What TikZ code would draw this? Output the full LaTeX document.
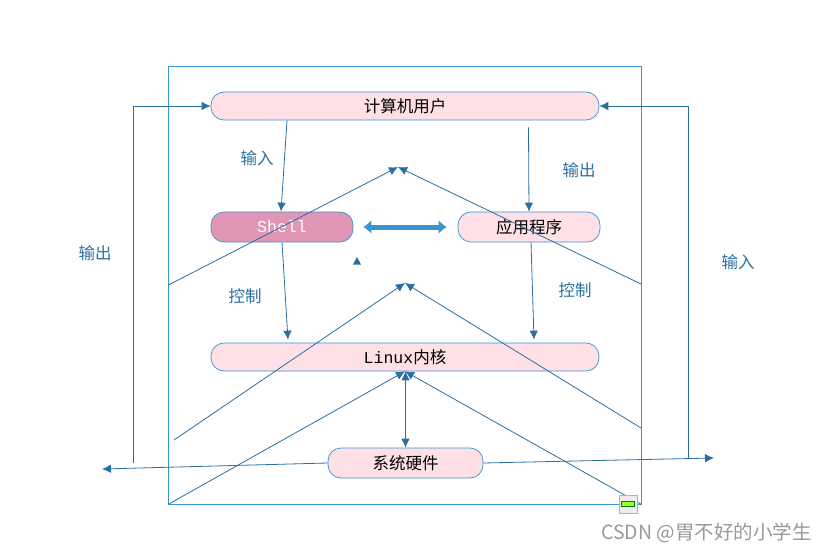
\documentclass[tikz,border=0pt]{standalone}
\usepackage{fontspec}
\setmainfont{Noto Sans CJK SC}
\newfontfamily\monofont{Liberation Mono}
\usetikzlibrary{arrows.meta}
\definecolor{framecol}{HTML}{3A94D0}
\definecolor{linkcol}{HTML}{2A6F9F}
\definecolor{pinkcol}{HTML}{FFE0E6}
\definecolor{rosecol}{HTML}{E096B4}
\tikzset{
  boxnode/.style={draw=framecol, fill=pinkcol, line width=0.7pt, rounded corners=13pt, inner sep=0pt, font=\fontsize{16.5}{17}\selectfont},
  linkline/.style={draw=linkcol, line width=0.8pt, -{Latex[length=9pt,width=8.5pt]}},
  plainline/.style={draw=linkcol, line width=0.8pt},
  labeltext/.style={text=linkcol, inner sep=0pt, font=\fontsize{16.5}{17}\selectfont},
}
\begin{document}
\begin{tikzpicture}[x=1pt, y=-1pt]
\useasboundingbox (0,0) rectangle (828,551);
\node[draw=framecol, line width=0.8pt, minimum width=472.5pt, minimum height=438pt, inner sep=0pt] (frame) at (404.75,285) {};

\node[boxnode, minimum width=388pt, minimum height=28pt] (user) at (405,106) {计算机用户};
\node[boxnode, fill=rosecol, text=white, minimum width=142pt, minimum height=30pt] (shell) at (282,227) {\monofont Shell};
\node[boxnode, minimum width=142pt, minimum height=30pt] (app) at (529,227) {应用程序};
\node[boxnode, minimum width=388pt, minimum height=28pt] (kernel) at (405,357) {{\monofont Linux}内核};
\node[boxnode, minimum width=155pt, minimum height=30pt] (hardware) at (405.5,463) {系统硬件};

\coordinate (apextop) at (398,167);
\coordinate (apexmid) at (405,283);
\coordinate (leftup) at (168.5,285);
\coordinate (rightup) at (641,284);
\coordinate (leftmid) at (174,440);
\coordinate (rightmid) at (641,428);
\coordinate (leftout) at (102,469);
\coordinate (rightout) at (714,458);
\coordinate (leftstart) at (133.5,463);
\coordinate (rightstart) at (688,458);

\draw[linkline] ([xshift=-118pt]user.south) -- ([xshift=-1pt]shell.north);
\draw[linkline] ([xshift=123.5pt,yshift=-7pt]user.south) -- (app.north);
\draw[linkline] (shell.south) -- ([xshift=-117pt,yshift=3pt]kernel.north);
\draw[linkline] ([xshift=2pt]app.south) -- ([xshift=129pt,yshift=3pt]kernel.north);

\draw[plainline] (leftstart) -- (leftstart |- user.west);
\draw[linkline] (leftstart |- user.west) -- (user.west);
\draw[plainline] (rightstart) -- (rightstart |- user.east);
\draw[linkline] (rightstart |- user.east) -- (user.east);

\draw[linkline] (hardware.west) -- (leftout);
\draw[linkline] (hardware.east) -- (rightout);

\draw[linkline] (leftup) -- (apextop);
\draw[linkline] (rightup) -- (apextop);
\draw[linkline] (leftmid) -- (apexmid);
\draw[linkline] (rightmid) -- (apexmid);
\draw[linkline] (frame.south west) -- (kernel.south);
\draw[linkline] (frame.south east) -- (kernel.south);
\draw[linkline, {Latex[length=9pt,width=8.5pt]}-{Latex[length=9pt,width=8.5pt]}] (hardware.north) -- (hardware.north |- kernel.south);

\draw[draw=framecol, line width=5pt, {Latex[length=8pt,width=14pt]}-{Latex[length=8pt,width=14pt]}] ([xshift=10pt]shell.east) -- ([xshift=-11pt]app.west);
\fill[linkcol] (353,264.5) -- (361,264.5) -- (357,257) -- cycle;

\node[labeltext] (inputa) at (257,158) {输入};
\node[labeltext] (outputa) at (579,170) {输出};
\node[labeltext] (outputb) at (95,253) {输出};
\node[labeltext] (inputb) at (738,262) {输入};
\node[labeltext] (controla) at (245,296) {控制};
\node[labeltext] (controlb) at (575,290) {控制};

\node[draw=black!30, fill=black!7, minimum width=18pt, minimum height=18pt, inner sep=0pt] (iconbox) at (628,504) {};
\node[draw=green!50!black, fill=green!50!yellow!80!white, minimum width=13pt, minimum height=5pt, inner sep=0pt] (iconbar) at (628,504) {};

\node[anchor=east, text=black!40, inner sep=0pt, font=\fontsize{19.5}{21}\selectfont] (mark) at (812,533) {CSDN @胃不好的小学生};
\end{tikzpicture}
\end{document}
